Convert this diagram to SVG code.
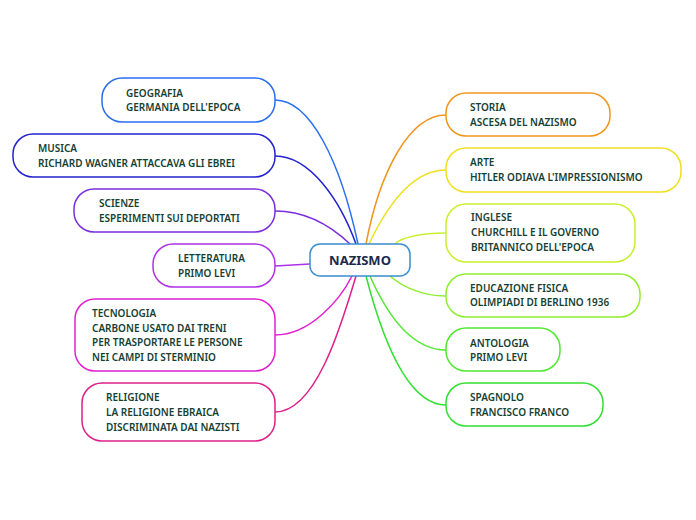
<svg xmlns="http://www.w3.org/2000/svg" width="696" height="520" viewBox="0 0 696 520">
<style>
.n{fill:#fff;stroke-width:1.5}
.t{font-family:"Noto Sans","Open Sans",sans-serif;font-size:10px;font-weight:600;fill:#163f33}
.c{fill:none;stroke-width:1.5}
</style>
<rect width="696" height="520" fill="#fff"/>
<g id="connectors">
<path class="c" stroke="#2a6ef0" d="M275,100 C310,100 340,160 358,244"/>
<path class="c" stroke="#2222d0" d="M275,156 C310,156 340,200 356,244"/>
<path class="c" stroke="#7a2ee0" d="M275,211 C305,211 330,225 350,244"/>
<path class="c" stroke="#b030e8" d="M275,266 L310,264"/>
<path class="c" stroke="#e020d0" d="M275,335 C310,335 340,300 352,276"/>
<path class="c" stroke="#e0208a" d="M275,412 C315,412 340,330 356,276"/>
<path class="c" stroke="#f0961e" d="M446,115 C410,115 380,170 366,244"/>
<path class="c" stroke="#f0e020" d="M446,170 C410,170 385,210 369,244"/>
<path class="c" stroke="#c8f030" d="M446,233 C420,233 400,238 395,244"/>
<path class="c" stroke="#90ee30" d="M446,296 C420,296 400,285 390,276"/>
<path class="c" stroke="#50e830" d="M446,350 C410,350 385,310 370,276"/>
<path class="c" stroke="#30e030" d="M446,405 C405,405 380,330 366,276"/>
</g>
<g id="center"><rect x="310" y="244" width="100" height="32" rx="10" fill="#fff" stroke="#3a8fd0" stroke-width="1.5"/><text x="360" y="265" text-anchor="middle" font-family="Noto Sans,sans-serif" font-size="13" font-weight="700" fill="#1a2a50">NAZISMO</text></g>
<g id="geografia"><rect class="n" stroke="#2a6ef0" x="102" y="78" width="173" height="44" rx="20"/><text class="t" x="126" y="97">GEOGRAFIA</text><text class="t" x="126" y="111">GERMANIA DELL'EPOCA</text></g>
<g id="musica"><rect class="n" stroke="#2222d0" x="13" y="134" width="262" height="43" rx="20"/><text class="t" x="38" y="152">MUSICA</text><text class="t" x="38" y="167">RICHARD WAGNER ATTACCAVA GLI EBREI</text></g>
<g id="scienze"><rect class="n" stroke="#7a2ee0" x="74" y="189" width="201" height="43" rx="20"/><text class="t" x="99" y="207">SCIENZE</text><text class="t" x="99" y="222">ESPERIMENTI SUI DEPORTATI</text></g>
<g id="letteratura"><rect class="n" stroke="#b030e8" x="153" y="244" width="122" height="43" rx="20"/><text class="t" x="178" y="262">LETTERATURA</text><text class="t" x="178" y="277">PRIMO LEVI</text></g>
<g id="tecnologia"><rect class="n" stroke="#e020d0" x="75" y="299" width="200" height="72" rx="20"/><text class="t" x="92" y="317">TECNOLOGIA</text><text class="t" x="92" y="332">CARBONE USATO DAI TRENI</text><text class="t" x="92" y="346">PER TRASPORTARE LE PERSONE</text><text class="t" x="92" y="361">NEI CAMPI DI STERMINIO</text></g>
<g id="religione"><rect class="n" stroke="#e0208a" x="82" y="383" width="193" height="58" rx="20"/><text class="t" x="106" y="401">RELIGIONE</text><text class="t" x="106" y="416">LA RELIGIONE EBRAICA</text><text class="t" x="106" y="431">DISCRIMINATA DAI NAZISTI</text></g>
<g id="storia"><rect class="n" stroke="#f0961e" x="446" y="93" width="164" height="43" rx="20"/><text class="t" x="470" y="111">STORIA</text><text class="t" x="470" y="126">ASCESA DEL NAZISMO</text></g>
<g id="arte"><rect class="n" stroke="#f0e020" x="446" y="148" width="235" height="44" rx="20"/><text class="t" x="470" y="166">ARTE</text><text class="t" x="470" y="181">HITLER ODIAVA L'IMPRESSIONISMO</text></g>
<g id="inglese"><rect class="n" stroke="#c8f030" x="446" y="204" width="189" height="58" rx="20"/><text class="t" x="471" y="221">INGLESE</text><text class="t" x="471" y="236">CHURCHILL E IL GOVERNO</text><text class="t" x="471" y="251">BRITANNICO DELL'EPOCA</text></g>
<g id="educazione"><rect class="n" stroke="#90ee30" x="446" y="274" width="194" height="43" rx="20"/><text class="t" x="470" y="292">EDUCAZIONE FISICA</text><text class="t" x="470" y="306">OLIMPIADI DI BERLINO 1936</text></g>
<g id="antologia"><rect class="n" stroke="#50e830" x="446" y="328" width="114" height="43" rx="20"/><text class="t" x="470" y="347">ANTOLOGIA</text><text class="t" x="470" y="361">PRIMO LEVI</text></g>
<g id="spagnolo"><rect class="n" stroke="#30e030" x="446" y="383" width="157" height="43" rx="20"/><text class="t" x="470" y="401">SPAGNOLO</text><text class="t" x="470" y="416">FRANCISCO FRANCO</text></g>
</svg>
